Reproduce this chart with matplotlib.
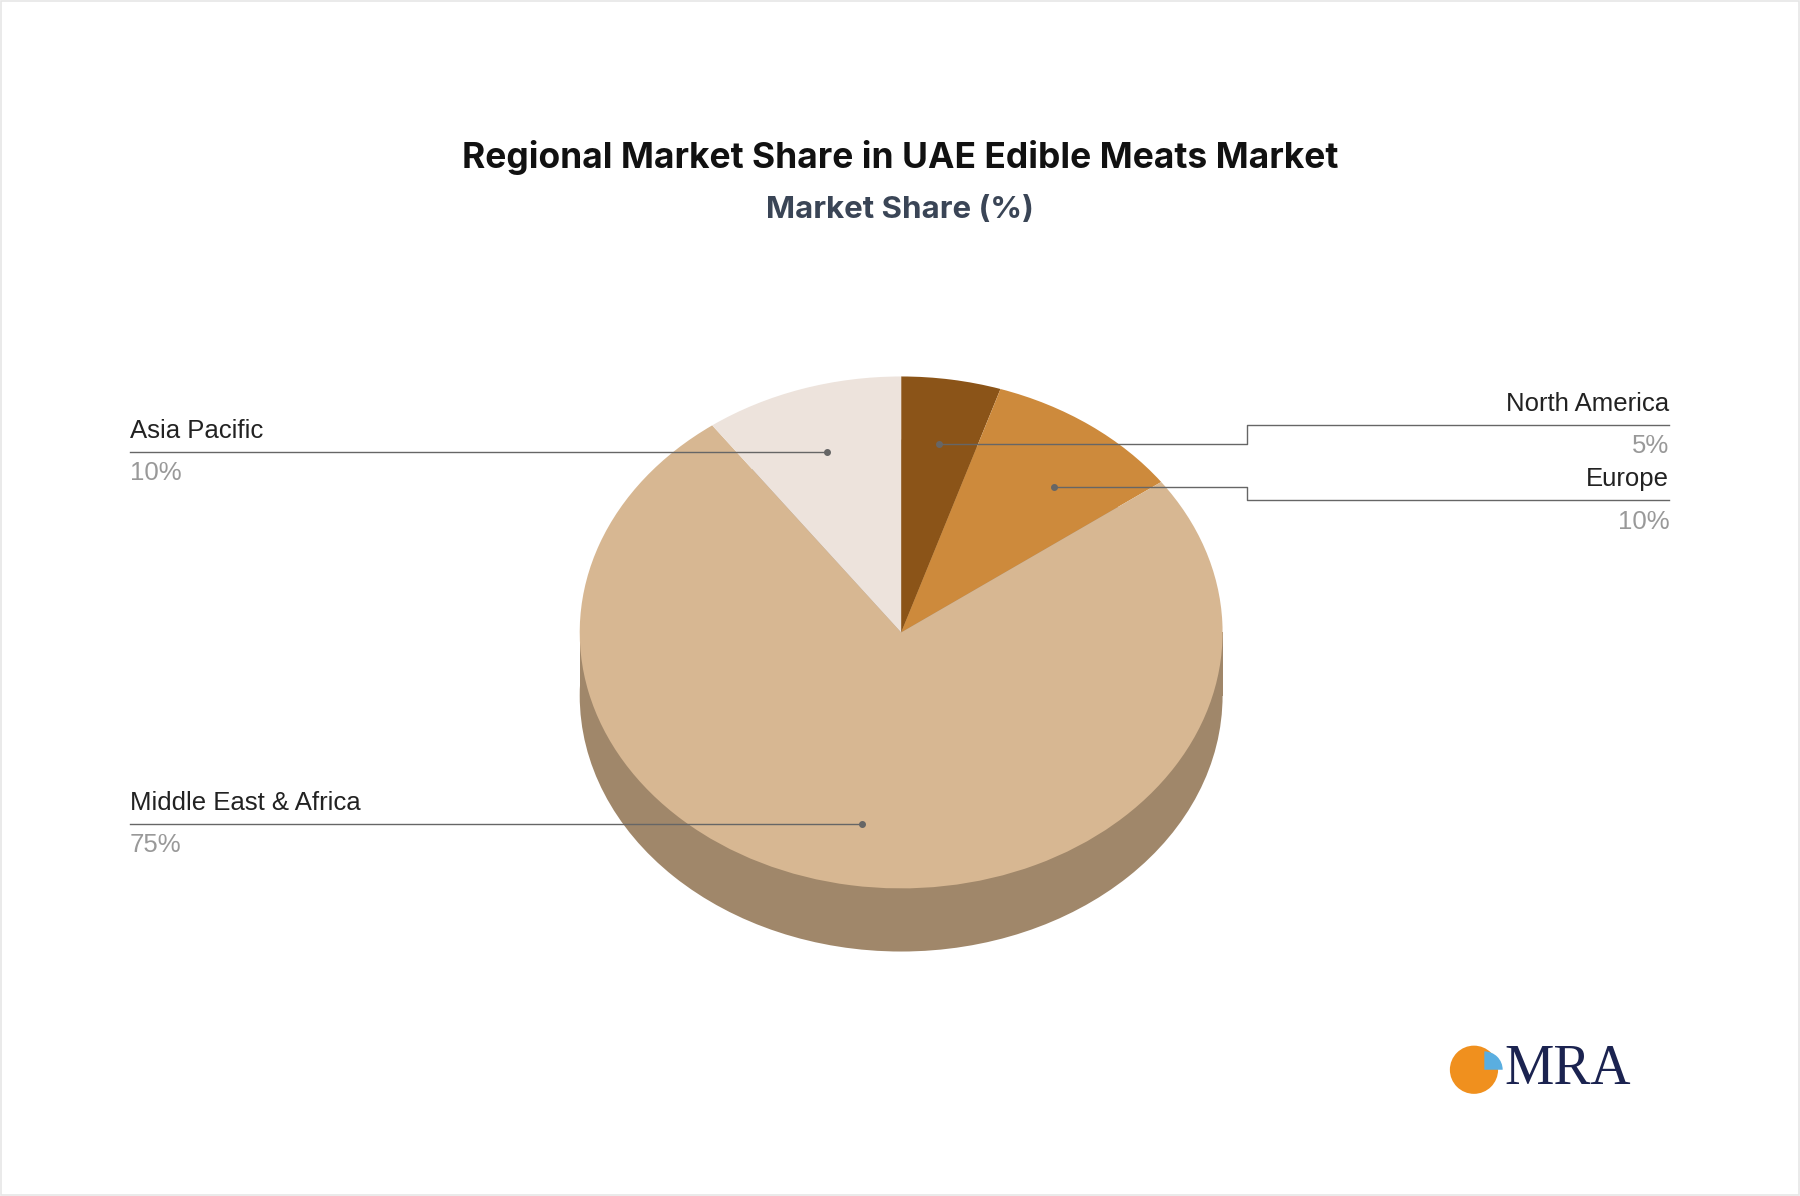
import matplotlib
matplotlib.use("Agg")
import matplotlib.pyplot as plt
from matplotlib.patches import Wedge, Ellipse, Rectangle
from matplotlib.transforms import Affine2D

regions = ["North America", "Europe", "Middle East & Africa", "Asia Pacific"]
shares = [5, 10, 75, 10]
colors = ["#8b5418", "#cd8a3c", "#d7b792", "#ede3dc"]
side_color = "#a0876a"

# layout in reference pixel space (1568 x 1042)
W, H = 1568, 1042
cx, cy, rx, ry, depth = 785, 551, 280, 223, 55

fig = plt.figure(figsize=(18, 11.96), dpi=100)
ax = fig.add_axes([0, 0, 1, 1])
ax.set_xlim(0, W)
ax.set_ylim(H, 0)
ax.axis("off")
ax.add_patch(Rectangle((1, 1), W - 2, H - 2, fill=False, edgecolor="#e6e6e6", lw=1.2))

# pie body (side)
ell = Affine2D().scale(rx, ry).translate(cx, cy) + ax.transData
ax.add_patch(Ellipse((cx, cy + depth), 2 * rx, 2 * ry, color=side_color, lw=0))
ax.add_patch(Rectangle((cx - rx, cy), 2 * rx, depth, color=side_color, lw=0))

# top face, clockwise from 12 o'clock (y axis is inverted)
start = 0.0
for val, col in zip(shares, colors):
    a0 = start * 3.6
    a1 = (start + val) * 3.6
    ax.add_patch(Wedge((0, 0), 1, a0 - 90, a1 - 90, color=col, lw=0, transform=ell))
    start += val

label_kw = dict(fontsize=18.5, color="#222222", family="Liberation Sans")
pct_kw = dict(fontsize=18.5, color="#999999", family="Liberation Sans")
lc = "#666666"

# Asia Pacific
ax.plot([113, 720], [394, 394], color=lc, lw=1)
ax.plot(720, 394, "o", color=lc, ms=4)
ax.text(113, 386, regions[3], ha="left", va="bottom", **label_kw)
ax.text(113, 402, f"{shares[3]}%", ha="left", va="top", **pct_kw)
# Middle East & Africa
ax.plot([113, 751], [718, 718], color=lc, lw=1)
ax.plot(751, 718, "o", color=lc, ms=4)
ax.text(113, 710, regions[2], ha="left", va="bottom", **label_kw)
ax.text(113, 726, f"{shares[2]}%", ha="left", va="top", **pct_kw)
# North America
ax.plot([1454, 1086, 1086, 818], [370, 370, 387, 387], color=lc, lw=1)
ax.plot(818, 387, "o", color=lc, ms=4)
ax.text(1454, 362, regions[0], ha="right", va="bottom", **label_kw)
ax.text(1454, 378, f"{shares[0]}%", ha="right", va="top", **pct_kw)
# Europe
ax.plot([1454, 1086, 1086, 918], [436, 436, 424, 424], color=lc, lw=1)
ax.plot(918, 424, "o", color=lc, ms=4)
ax.text(1454, 428, regions[1], ha="right", va="bottom", **label_kw)
ax.text(1454, 444, f"{shares[1]}%", ha="right", va="top", **pct_kw)

ax.text(784, 137, "Regional Market Share in UAE Edible Meats Market", ha="center", va="center",
        fontsize=25.5, fontweight="bold", color="#111111", family="Inter")
ax.text(784, 183, "Market Share (%)", ha="center", va="center",
        fontsize=22.5, fontweight="bold", color="#3a4556", family="Inter")

# logo
ax.add_patch(Ellipse((1284, 932), 42, 42, color="#f0901e", lw=0))
ax.add_patch(Wedge((1293, 932), 16, 0, 90, color="#5aaee0", lw=0,
                   transform=Affine2D().scale(1, -1).translate(0, 2 * 932) + ax.transData))
ax.text(1366, 932, "MRA", ha="center", va="center", fontsize=40, family="Liberation Serif", color="#1b2350")

fig.savefig("out.png", dpi=100, facecolor="white")
